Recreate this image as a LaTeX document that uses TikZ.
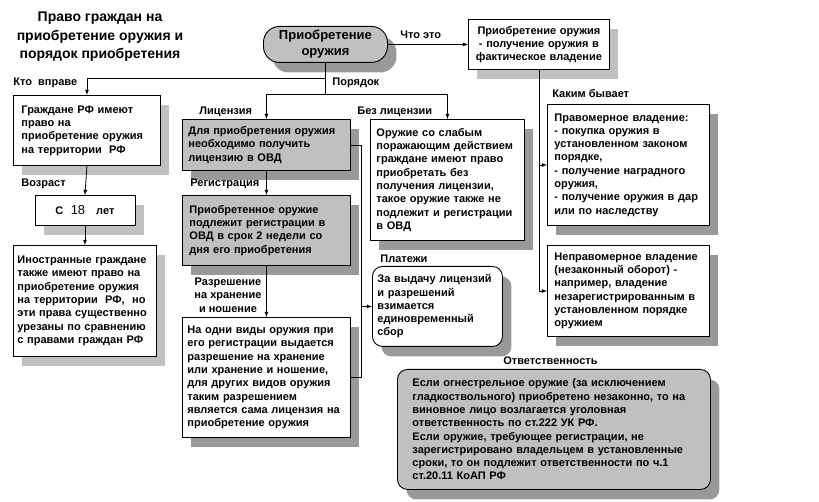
\documentclass[tikz,border=0pt]{standalone}
\usepackage{fontspec}
\setmainfont{Liberation Sans}
\usetikzlibrary{shadows,calc}

\definecolor{boxgray}{HTML}{C0C0C0}
\definecolor{shadowlight}{HTML}{C0C0C0}
\definecolor{shadowdark}{HTML}{999999}

\tikzset{
  box/.style={draw, fill=white, line width=0.9pt, anchor=north west, align=left,
    inner xsep=6pt, inner ysep=0pt, font=\bfseries\fontsize{11}{13.3}\selectfont},
  lightshadow/.style={drop shadow={shadow xshift=9pt, shadow yshift=-10pt, fill=shadowlight, opacity=1}},
  darkshadow/.style={drop shadow={shadow xshift=9pt, shadow yshift=-10pt, fill=shadowdark, opacity=1}},
  lbl/.style={anchor=west, inner sep=0pt, font=\bfseries\fontsize{11}{13.3}\selectfont},
  arr/.style={-latex, line width=0.8pt},
}

\begin{document}
\begin{tikzpicture}[x=1pt, y=-1pt, line width=0.8pt]
\useasboundingbox (0,0) rectangle (819,502);

% title
\node[font=\bfseries\fontsize{14}{18.5}\selectfont, align=center] (title) at (100,37)
  {Право граждан на\\приобретение оружия и\\порядок приобретения};

% centre
\node[box, fill=boxgray, darkshadow, rounded corners=16pt, align=center, text width=112pt,
  minimum height=36pt, font=\bfseries\fontsize{13}{16}\selectfont] (acq) at (263,26)
  {Приобретение\\оружия};
\node[box, lightshadow, align=center, text width=131pt, minimum height=50pt, inner xsep=5pt] (defbox) at (468,19)
  {Приобретение оружия\\- получение оружия в\\фактическое владение};

% left column
\node[box, lightshadow, text width=131pt, minimum height=70pt, inner xsep=8pt] (citizens) at (13,95)
  {Граждане РФ имеют\\право на\\приобретение оружия\\на территории~~РФ};
\node[box, lightshadow, align=center, text width=88pt, minimum height=30pt] (age) at (34.5,195)
  {С~~{\fontsize{13}{13}\mdseries 18}~~~лет};
\node[box, lightshadow, text width=135pt, minimum height=111pt, inner xsep=4pt] (foreign) at (13,245)
  {Иностранные граждане\\также имеют право на\\приобретение оружия\\на территории~~РФ,~~но\\эти права существенно\\урезаны по сравнению\\с правами граждан РФ};

% middle column
\node[box, fill=boxgray, darkshadow, text width=156pt, minimum height=51pt] (license) at (182,119)
  {Для приобретения оружия\\необходимо получить\\лицензию в ОВД};
\node[box, fill=boxgray, darkshadow, text width=154pt, minimum height=70pt, inner xsep=7pt] (reg) at (182,195)
  {Приобретенное оружие\\подлежит регистрации в\\ОВД в срок 2 недели со\\дня его приобретения};
\node[box, darkshadow, text width=158pt, minimum height=120pt, inner xsep=5pt] (permit) at (182,317)
  {На одни виды оружия при\\его регистрации выдается\\разрешение на хранение\\или хранение и ношение,\\для других видов оружия\\таким разрешением\\является сама лицензия на\\приобретение оружия};
\node[box, darkshadow, text width=142pt, minimum height=121pt] (nolicense) at (370,119)
  {Оружие со слабым\\поражающим действием\\граждане имеют право\\приобретать без\\получения лицензии,\\такое оружие также не\\подлежит и регистрации\\в ОВД};
\node[box, darkshadow, rounded corners=10pt, text width=120pt, minimum height=80pt, inner xsep=5pt] (payments) at (372,266)
  {За выдачу лицензий\\и разрешений\\взимается\\единовременный\\сбор};

% right column
\node[box, darkshadow, text width=148pt, minimum height=121pt, inner xsep=7pt] (lawful) at (547,104)
  {Правомерное владение:\\- покупка оружия в\\установленном законом\\порядке,\\- получение наградного\\оружия,\\- получение оружия в дар\\или по наследству};
\node[box, darkshadow, text width=148pt, minimum height=91pt, inner xsep=7pt] (unlawful) at (547,245)
  {Неправомерное владение\\(незаконный оборот) -\\например, владение\\незарегистрированным в\\установленном порядке\\оружием};
\node[box, fill=boxgray, darkshadow, rounded corners=10pt, text width=283pt, minimum height=120pt, inner xsep=15pt] (liability) at (397,369)
  {Если огнестрельное оружие (за исключением\\гладкоствольного) приобретено незаконно, то на\\виновное лицо возлагается уголовная\\ответственность по ст.222 УК РФ.\\Если оружие, требующее регистрации, не\\зарегистрировано владельцем в установленные\\сроки, то он подлежит ответственности по ч.1\\ст.20.11 КоАП РФ};

% labels
\node[lbl] (whatlbl) at (400,35) {Что это};
\node[lbl] (wholbl) at (13,83) {Кто~~вправе};
\node[lbl] (orderlbl) at (332,83) {Порядок};
\node[lbl] (licenselbl) at (199,112) {Лицензия};
\node[lbl] (nolicenselbl) at (357,112) {Без лицензии};
\node[lbl] (agelbl) at (21,184) {Возраст};
\node[lbl] (reglbl) at (190,184) {Регистрация};
\node[lbl, anchor=center, align=center] (permitlbl) at (228,295) {Разрешение\\на хранение\\и ношение};
\node[lbl] (kindlbl) at (552,94) {Каким бывает};
\node[lbl] (paylbl) at (380,259) {Платежи};
\node[lbl] (liabilitylbl) at (503,361) {Ответственность};

% connectors
\coordinate (fork) at ($(acq.south)+(0,32)$);
\draw[arr] (acq.east) -- (defbox.west);
\draw[arr] (acq.south) -- ++(0,16) -| (citizens.north);
\draw[arr] (acq.south) -- (fork) -| (license.north);
\draw[arr] (fork) -| (nolicense.north);
\draw[arr] (citizens.south) -- (age.north);
\draw[arr] (age.south) -- (foreign.north);
\draw[arr] (license.south) -- (reg.north);
\draw[arr] (reg.south) -- (permit.north);

\coordinate (bus) at ($(license.east)+(10,0)$);
\draw (license.east) -- (bus) |- (permit.east);
\draw[arr] (bus |- payments.west) -- (payments.west);

\draw[arr] (defbox.south) |- (unlawful.west);
\draw[arr] (defbox.south |- lawful.west) -- (lawful.west);
\end{tikzpicture}
\end{document}
